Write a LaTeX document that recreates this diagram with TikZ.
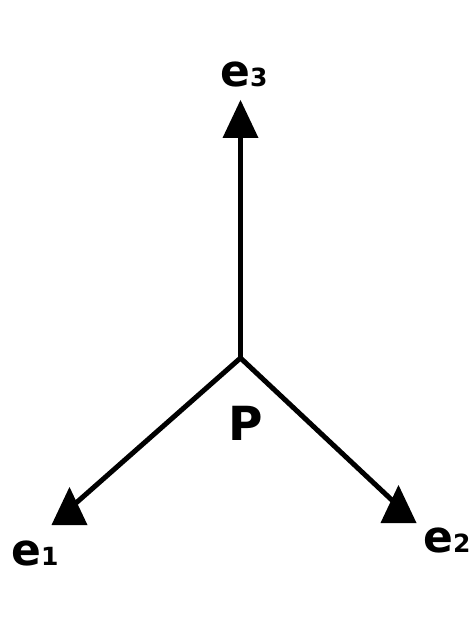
\documentclass[tikz,border=0pt]{standalone}
\usepackage{fontspec}
\setmainfont{DejaVu Sans}
\begin{document}
\begin{tikzpicture}[x=1pt,y=-1pt,
  axis/.style={line width=5pt,black},
  headfill/.style={fill=black},
  lab/.style={inner sep=0pt,anchor=base west,font=\bfseries\fontsize{44}{44}\selectfont},
  sub/.style={font=\bfseries\fontsize{25}{25}\selectfont}]
\useasboundingbox[fill=white] (0,0) rectangle (474,620);
\coordinate (P) at (240.5,358);
\coordinate (h3) at (240.5,100);
\coordinate (h1) at (69.5,487);
\coordinate (h2) at (398.5,485);
\coordinate (end3) at (240.5,130);
\coordinate (end1) at (76,503);
\coordinate (end2) at (395,503);
\draw[axis] (P) -- (end3);
\draw[axis] (P) -- (end1);
\draw[axis] (P) -- (end2);
\foreach \h in {h1,h2,h3}{
  \fill[headfill,shift={(\h)}] (0,0) -- (-18,38) -- (18,38) -- cycle;
}
\node[lab] (e3) at (220,87) {e{\fontsize{25}{25}\selectfont 3}};
\node[lab] (e1) at (11,565) {e{\fontsize{25}{25}\selectfont 1}};
\node[lab] (e2) at (423,552) {e{\fontsize{25}{25}\selectfont 2}};
\node[lab,font=\bfseries\fontsize{47}{47}\selectfont] (p) at (228,440) {P};
\end{tikzpicture}
\end{document}
